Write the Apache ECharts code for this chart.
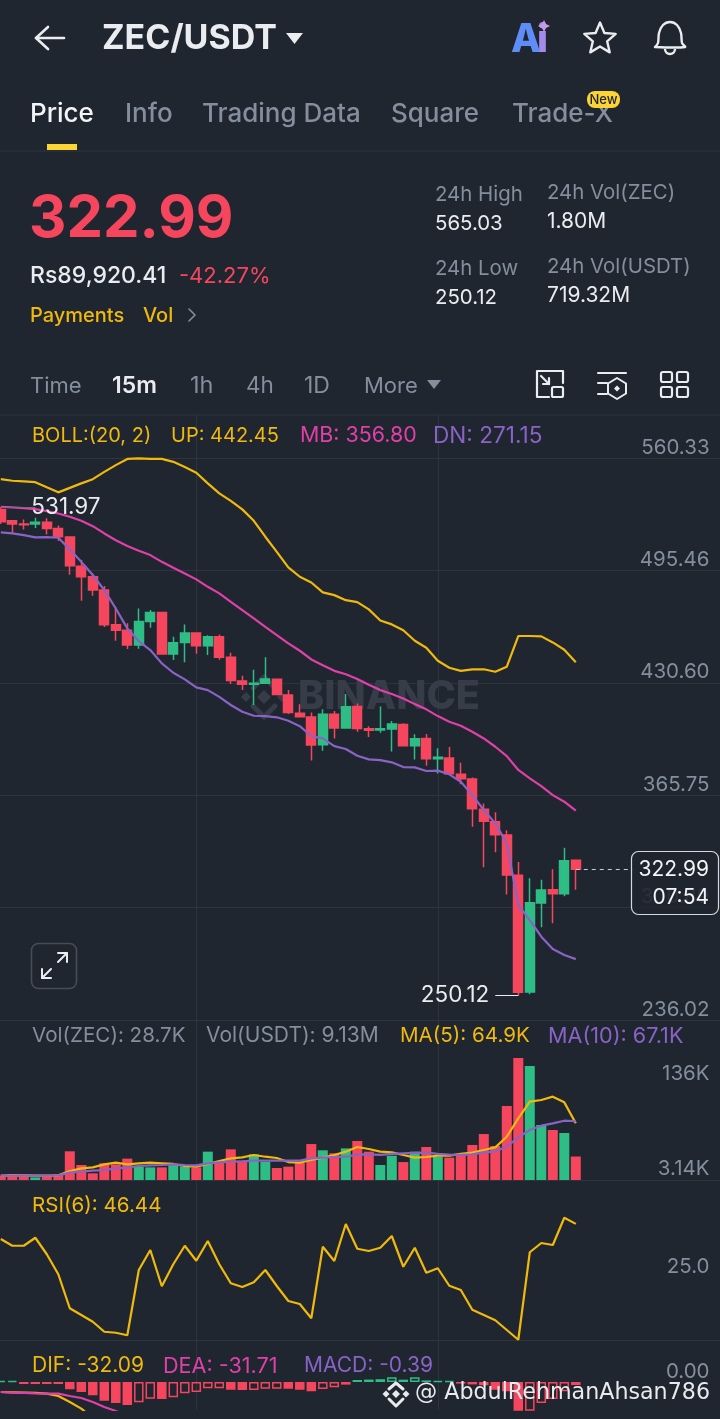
<!DOCTYPE html>
<html><head><meta charset="utf-8">
<style>html,body{margin:0;padding:0;background:#1F2630}#c{width:720px;height:1419px}</style>
<script src="https://cdn.jsdelivr.net/npm/echarts@6/dist/echarts.min.js"></script>
</head><body><div id="c"></div>
<script>
// ---------- chart data ----------
const priceTicks = [560.33, 495.46, 430.60, 365.75, 300.89, 236.02];
const opens  = [530.6,524.1,522.3,522.2,523.2,519.7,514.7,497.9,491.8,484.1,464.1,460.9,452.4,466.0,471.2,447.2,453.9,459.3,452.0,457.2,445.3,431.6,429.7,430.3,432.6,423.5,413.0,410.8,394.8,412.4,404.5,417.0,404.1,403.3,403.9,406.6,394.3,398.5,386.8,387.2,377.9,375.1,357.6,350.4,342.8,319.5,252.2,303.5,311.2,308.9,328.2];
const closes = [523.5,522.3,521.8,523.2,519.7,514.9,498.1,491.8,484.1,464.1,460.9,452.4,466.0,471.2,447.2,453.7,459.3,452.0,457.2,445.3,432.0,429.7,430.4,432.8,423.9,413.5,411.0,394.7,412.4,404.5,416.8,404.3,403.2,404.1,406.8,394.3,398.3,386.8,387.6,378.1,375.2,357.9,350.7,342.9,319.7,252.0,303.7,311.0,308.9,327.9,322.99];
const lows   = [522.2,516.8,519.1,520.0,516.2,512.5,492.9,477.9,480.8,462.8,454.9,450.1,450.2,462.4,446.8,443.7,442.4,447.4,446.6,443.9,429.9,426.4,417.8,430.3,423.7,412.6,410.7,385.8,391.4,398.5,404.5,402.4,399.3,401.8,391.0,394.3,386.4,382.7,378.3,377.9,372.0,347.5,324.1,332.8,308.5,250.12,250.9,289.5,291.8,307.4,311.2];
const highs  = [531.97,524.5,524.9,525.8,525.5,521.4,514.7,501.4,493.7,486.4,474.5,464.9,473.5,472.6,471.6,457.2,464.3,459.3,458.1,458.5,447.9,434.7,438.1,445.3,432.8,426.4,418.3,413.5,415.3,414.3,424.1,418.7,405.6,417.0,408.5,407.2,400.9,401.0,392.8,393.5,384.5,376.0,361.0,355.9,345.5,327.2,317.8,317.0,323.0,335.4,328.2];
const bollUp = [548.1,547.2,546.8,546.4,543.4,540.5,543.1,545.7,548.1,552.3,556.2,559.8,560.1,559.8,559.8,558.1,555.1,551.8,545.7,539.9,535.6,530.7,524.1,514.9,506.2,497.2,491.8,488.5,482.8,481.2,478.3,477.2,473.0,466.6,464.3,460.9,454.9,450.8,443.3,439.3,437.5,438.4,438.4,437.0,439.9,457.6,457.6,457.4,453.9,449.7,442.45];
const bollMb = [532.2,531.8,531.4,530.8,529.7,528.3,526.4,524.1,521.0,516.8,512.9,509.5,506.8,504.3,500.4,497.0,493.7,490.3,486.0,482.2,477.3,472.6,467.8,462.9,458.1,453.4,449.1,444.1,440.7,437.5,435.5,432.8,429.5,426.4,424.1,421.6,418.3,415.3,411.4,408.1,405.8,402.4,398.5,393.7,388.3,380.3,375.5,371.0,365.8,362.0,356.80];
const bollDn = [517.4,516.8,515.8,514.5,514.7,514.3,507.6,500.4,492.8,484.1,473.5,462.0,454.7,449.5,441.8,436.4,432.6,428.0,426.4,422.5,417.8,413.9,411.6,411.4,410.7,408.7,405.6,399.9,398.5,394.1,392.4,388.5,386.4,386.0,384.7,382.0,381.8,379.7,379.9,377.8,373.5,365.8,357.2,349.5,338.0,302.4,293.7,284.1,277.0,273.5,271.15];
const volume = [7.9,9.7,7.9,6.0,7.9,9.3,34.4,19.5,10.4,21.3,20.2,26.4,17.7,16.9,16.9,19.8,17.7,16.9,34.0,22.0,36.5,24.2,31.1,23.1,16.2,17.7,22.0,42.3,35.5,32.2,37.6,45.6,34.0,19.5,29.6,22.7,34.0,39.1,28.5,27.5,30.4,41.3,53.2,40.2,83.7,136,127.3,63.0,57.6,54.3,28.7];
const volMa5 = [7.9,8.2,8.2,7.9,7.9,8.2,12.9,15.8,16.9,20.2,22.0,20.2,21.3,22.0,21.3,20.6,18.4,17.7,20.6,23.8,26.7,27.8,30.4,28.5,27.1,22.7,22.0,24.9,27.5,30.4,34.0,39.1,36.9,34.0,33.3,30.4,27.5,28.2,29.6,29.6,31.5,32.9,35.8,38.7,50.3,70.3,88.4,90.3,93.9,87.7,64.9];
const volMa10= [7.9,7.9,7.9,7.9,7.9,8.2,11.1,12.2,13.3,14.0,15.8,16.9,18.4,19.1,19.5,20.2,19.5,19.1,21.3,22.4,23.1,23.5,24.2,24.2,24.2,24.2,24.2,26.7,27.5,28.2,28.5,30.7,31.1,30.4,31.5,32.2,32.6,32.9,31.5,30.7,30.4,31.1,33.3,34.4,39.4,49.6,57.6,62.3,64.8,67.7,67.1];
const rsi6   = [40.4,37.7,37.7,40.9,34.3,26.3,12.7,10.0,7.3,3.3,2.9,1.9,28.0,36.0,21.5,30.3,37.7,31.7,39.6,30.3,22.7,21.2,23.1,28.0,21.6,15.6,14.4,8.7,37.3,31.6,46.4,36.5,35.6,36.9,41.6,29.3,36.9,26.9,28.7,21.7,20.0,12.1,10.0,7.9,4.0,0.1,35.1,38.8,38.0,48.9,46.44];
const macdHist = [0.15,0.15,-0.25,-0.25,-0.25,-0.25,-0.9,-1.25,-1.67,-2.33,-2.63,-2.88,-2.54,-2.08,-2.13,-1.92,-1.42,-1.25,-0.79,-0.79,-0.96,-1.0,-1.0,-0.83,-0.83,-0.83,-0.96,-1.17,-0.88,-0.67,-0.33,0.25,0.3,0.35,0.58,0.29,0.58,0.2,0.12,0.12,-0.2,-0.3,-0.4,-0.96,-1.17,-3.6,-3.6,-2.63,-2.13,-1.17,-0.39];
const macdHollow = [12,13,15,16,17,18,19,22,23,24,28,29,33,34,36,46,47,48,49];
const macdDif = [-1.25,-1.29,-1.33,-1.37,-1.46,-1.75,-2.5,-3.33,-4.5];
const macdDea = [-1.25,-1.33,-1.37,-1.42,-1.46,-1.46,-1.75,-2.0,-2.5,-3.12,-3.62,-4.2];
const xSlots = 63;
const categories = Array.from({length:xSlots},(_,i)=>String(i));
const gridColumns = [17,38];

// ---------- colours ----------
const RED='#F6465D',GREEN='#2EBD85',YEL='#F0B90B',PINK='#E040A8',PUR='#8A63C6',GREY='#848E9C',WHITE='#EAECEF',LINE='#2C3440',BG='#1F2630';
const FF='Inter';

// ---------- axes ----------
const gridX={left:-4.95,width:724.5,outerBoundsMode:'none'};
const grids=[
 {left:0.8,width:713,top:415,height:995,outerBoundsMode:'none'},
 {...gridX,top:458,height:562},
 {...gridX,top:1058,height:122},
 {...gridX,top:1180,height:160},
 {...gridX,top:1340,height:70}
];
const hidden={show:false};
const xAxes=[
 {gridIndex:0,type:'category',boundaryGap:false,data:categories,axisLine:hidden,axisTick:hidden,axisLabel:hidden,
  splitLine:{show:true,interval:(i)=>gridColumns.includes(i),lineStyle:{color:LINE,width:1}}},
 ...[1,2,3,4].map(g=>({gridIndex:g,type:'category',data:categories,axisTick:hidden,axisLabel:hidden,splitLine:hidden,
   axisLine:{show:g===2||g===3,lineStyle:{color:LINE,width:1}}}))
];
const lab={show:true,inside:true,margin:10,align:'right',verticalAlign:'bottom',color:GREY,fontFamily:FF,fontSize:20.5};
const yAxes=[
 {gridIndex:0,type:'value',min:0,max:1,show:false},
 {gridIndex:1,type:'value',position:'right',min:236.02,max:560.33,axisLine:hidden,
  axisTick:{show:false,customValues:priceTicks},
  axisLabel:{...lab,customValues:priceTicks,formatter:v=>Number(v).toFixed(2)},
  splitLine:{show:true,lineStyle:{color:LINE,width:1}}},
 {gridIndex:2,type:'value',position:'right',min:3.14,max:136,axisLine:hidden,
  axisTick:{show:false,customValues:[3.14,136]},splitLine:hidden,
  axisLabel:{...lab,customValues:[3.14,136],padding:[5,0,1,0],verticalAlignMaxLabel:'top',verticalAlignMinLabel:'bottom',formatter:v=>v+'K'}},
 {gridIndex:3,type:'value',position:'right',min:0,max:64,axisLine:hidden,
  axisTick:{show:false,customValues:[25]},splitLine:hidden,
  axisLabel:{...lab,customValues:[25],formatter:v=>Number(v).toFixed(1)}},
 {gridIndex:4,type:'value',position:'right',min:-3.5,max:5.25,axisLine:hidden,
  axisTick:{show:false,customValues:[0]},splitLine:hidden,
  axisLabel:{...lab,customValues:[0],formatter:v=>Number(v).toFixed(2)}}
];

// ---------- series ----------
const line=(g,data,color,w)=>({type:'line',xAxisIndex:g,yAxisIndex:g,data,showSymbol:false,symbol:'none',
  lineStyle:{color,width:w||2.2},itemStyle:{color},z:4,silent:true});
const ml=(from,to,val,text,color,dist,dash)=>([
  {coord:[from,val],lineStyle:{color:color,width:1,type:dash?[4,4]:'solid'},label:text?{show:true,position:'end',formatter:text,color:'#EAECEF',fontFamily:FF,fontSize:22.5,padding:[5,0,0,0],distance:dist}:{show:false}},
  {coord:[to,val]}]);
const series=[
 {type:'candlestick',xAxisIndex:1,yAxisIndex:1,barWidth:9.5,z:3,silent:true,
  data:opens.map((o,i)=>[o,closes[i],lows[i],highs[i]]),
  itemStyle:{color:GREEN,color0:RED,borderColor:GREEN,borderColor0:RED,borderWidth:1.5},
  markLine:{silent:true,symbol:['none','none'],animation:false,z:6,data:[
    ml(0,3,531.97,'531.97','#6b7280',-4),
    ml(45,43,250.12,'250.12','#EAECEF',6),
    ml(50,55,322.99,null,'#C9CDD4',0,true)
  ]}},
 line(1,bollUp,YEL),line(1,bollMb,PINK),line(1,bollDn,PUR),
 {type:'bar',xAxisIndex:2,yAxisIndex:2,barWidth:10,z:2,silent:true,
  data:volume.map((v,i)=>({value:v,itemStyle:{color:closes[i]>=opens[i]?GREEN:RED}}))},
 line(2,volMa5,YEL),line(2,volMa10,PUR),
 line(3,rsi6,YEL),
 {type:'bar',xAxisIndex:4,yAxisIndex:4,barWidth:9.5,z:2,silent:true,
  data:macdHist.map((v,i)=>{const c=v>=0?GREEN:RED;const h=macdHollow.includes(i);
    return {value:v,itemStyle:{color:h?'transparent':c,borderColor:c,borderWidth:1.5}};})},
 line(4,macdDif,YEL),line(4,macdDea,PINK)
];

// ---------- page furniture ----------
const g=[];
const T=(text,x,y,font,fill,align,extra)=>g.push({type:'text',z:50,silent:true,style:Object.assign({text,x,y:y+1,font:font+' '+FF,fill,align:align||'left',verticalAlign:'middle'},extra||{})});
const PL=(pts,stroke,w,z,smooth)=>g.push({type:'polyline',z:z==null?50:z,silent:true,shape:{points:pts,smooth:smooth||0},style:{stroke,lineWidth:w||2,fill:null,lineJoin:'round',lineCap:'round'}});
const PG=(pts,fill,z,stroke,w)=>g.push({type:'polygon',z:z==null?50:z,silent:true,shape:{points:pts},style:stroke?{stroke,lineWidth:w||2,fill:fill||null,lineJoin:'round'}:{fill}});
const R=(x,y,w,h,r,fill,stroke,lw,z)=>g.push({type:'rect',z:z==null?50:z,silent:true,shape:{x,y,width:w,height:h,r},style:{fill:fill||null,stroke:stroke||null,lineWidth:lw||1}});
const dia=(cx,cy,r)=>[[cx-r,cy],[cx,cy-r],[cx+r,cy],[cx,cy+r]];

// top bar
PL([[48,27],[36,38],[48,49]],WHITE,2.6);PL([[36,38],[64,38]],WHITE,2.6);
T('ZEC/USDT',102,38,'700 34px',WHITE);
PG([[286,33],[303,33],[294.5,44]],WHITE);
T('A',511,39,'800 39px','#5E8DF7');
T('i',537,39,'800 39px','#A48AEA');
PG([[544,20],[546,24],[550,26],[546,28],[544,32],[542,28],[538,26],[542,24]],'#C79BE8');
(function(){const p=[];for(let i=0;i<10;i++){const a=-Math.PI/2+i*Math.PI/5,r=i%2?7.5:16.5;p.push([600+r*Math.cos(a),39+r*Math.sin(a)]);}PG(p,null,50,WHITE,2.4);})();
PL([[655,47],[658,43],[659,33],[663,25],[670,22],[677,25],[681,33],[682,43],[685,47],[655,47]],WHITE,2.4,50,0.3);
g.push({type:'arc',z:50,silent:true,shape:{cx:670,cy:49,r:5,startAngle:0,endAngle:Math.PI},style:{stroke:WHITE,lineWidth:2.4,fill:null}});

// tabs
T('Price',30,113,'500 26px','#F3F4F6');
T('Info',125,113,'500 26px',GREY);
T('Trading Data',202,113,'500 26px',GREY);
T('Square',391,113,'500 26px',GREY);
T('Trade-X',512,113,'500 26px',GREY);
R(587,91,33,17,8,'#FCD535');
T('New',603.5,99,'500 13px','#1E2329','center');
R(47,144,30,6,0,'#FCD535');
R(0,150.5,720,1,0,LINE);

// headline numbers
T('322.99',29,219,'700 58px',RED);
T('Rs89,920.41',30,275,'500 23px',WHITE);
T('-42.27%',179,275,'400 22px',RED);
T('Payments',30,315,'500 20px',YEL);
T('Vol',143,315,'500 20px',YEL);
PL([[189,309],[195,315],[189,321]],GREY,1.6);
T('24h High',435,194,'400 20.4px',GREY);
T('565.03',435,223,'400 20.4px',WHITE);
T('24h Low',435,268,'400 20.4px',GREY);
T('250.12',435,297,'400 20.4px',WHITE);
T('24h Vol(ZEC)',547,192,'400 20.4px',GREY);
T('1.80M',547,221,'400 21px',WHITE);
T('24h Vol(USDT)',547,266,'400 20.4px',GREY);
T('719.32M',547,295,'400 21px',WHITE);

// interval row
T('Time',30,385,'400 22px',GREY);
T('15m',112,385,'600 23px',WHITE);
T('1h',190,385,'400 23.5px',GREY);
T('4h',246,385,'400 22.5px',GREY);
T('1D',304,385,'400 23px',GREY);
T('More',364,385,'400 22px',GREY);
PG([[427,380],[441,380],[434,389]],GREY);
PL([[563,383],[563,371],[537,371],[537,397],[549,397]],WHITE,2.2);
R(552,387,11,10,1.5,null,WHITE,2.2);
PL([[541,376],[549,384]],WHITE,2.2);PL([[549,378],[549,384],[543,384]],WHITE,2.2);
PL([[598,373],[626,373]],WHITE,2);PL([[598,383],[607,383]],WHITE,2);PL([[598,394],[607,394]],WHITE,2);
PG([[617,378],[626,383.5],[626,393.5],[617,399],[608,393.5],[608,383.5]],null,50,WHITE,2);
PG(dia(617,388.5,3),WHITE);
[[661,372],[677,372],[661,387],[677,387]].forEach(p=>R(p[0],p[1],11,10,2,null,WHITE,2.2));
R(0,414.5,720,1,0,LINE);

// indicator legends
T('BOLL:(20, 2)',32,435,'400 20px',YEL);
T('UP: 442.45',171,435,'400 20px',YEL);
T('MB: 356.80',300,435,'400 21.4px',PINK);
T('DN: 271.15',433,435,'400 22.6px',PUR);
T('Vol(ZEC): 28.7K',32,1035,'400 20.6px',GREY);
T('Vol(USDT): 9.13M',206,1035,'400 21px',GREY);
T('MA(5): 64.9K',400,1035,'400 20.6px',YEL);
T('MA(10): 67.1K',548,1035,'400 21.6px',PUR);
T('RSI(6): 46.44',32,1205,'400 20.6px',YEL);
T('DIF: -32.09',32,1365,'400 21px',YEL);
T('DEA: -31.71',163,1365,'400 21.6px',PINK);
T('MACD: -0.39',304,1365,'400 21px',PUR);

// last price box
R(631.5,851.5,87,63,7,'rgba(31,38,48,0.9)','#D5D8DC',1.2,40);
T('322.99',709,869,'400 21px','#F3F4F6','right');
T('07:54',709,897,'400 21px','#F3F4F6','right');

// expand button
R(31.5,943.5,45,45,7,null,'#474D57',1.6);
PL([[42,978],[51,969]],WHITE,2);PL([[42,969],[42,978],[51,978]],WHITE,2);
PL([[58,962],[67,953]],WHITE,2);PL([[58,953],[67,953],[67,962]],WHITE,2);

// chart watermark
const WM='#363D49';
T('BINANCE',298,696,'800 39.5px',WM,'left');g[g.length-1].z=1;
PG(dia(264,697,7),WM,1);PG(dia(246,697,5),WM,1);PG(dia(282,697,5),WM,1);
PL([[253,688],[264,677],[275,688]],WM,5,1);PL([[253,706],[264,717],[275,706]],WM,5,1);

// author watermark
const SH={shadowColor:'rgba(0,0,0,0.7)',shadowBlur:2,shadowOffsetX:1,shadowOffsetY:1};
g.push({type:'text',z:60,silent:true,style:Object.assign({text:'@ AbdulRehmanAhsan786',x:415,y:1393,font:'400 22.2px "DejaVu Sans"',fill:'#E8EAED',align:'left',verticalAlign:'middle'},SH)});
[dia(396,1394,4),dia(386,1394,3.5),dia(406,1394,3.5)].forEach(p=>PG(p,'#E8EAED',60));
PL([[389,1389],[396,1383],[403,1389]],'#E8EAED',3,60);PL([[389,1399],[396,1406],[403,1399]],'#E8EAED',3,60);

const chart=echarts.init(document.getElementById('c'),null,{renderer:'canvas'});
chart.setOption({animation:false,backgroundColor:BG,tooltip:{show:false},grid:grids,xAxis:xAxes,yAxis:yAxes,series,graphic:{elements:g}});
</script></body></html>
